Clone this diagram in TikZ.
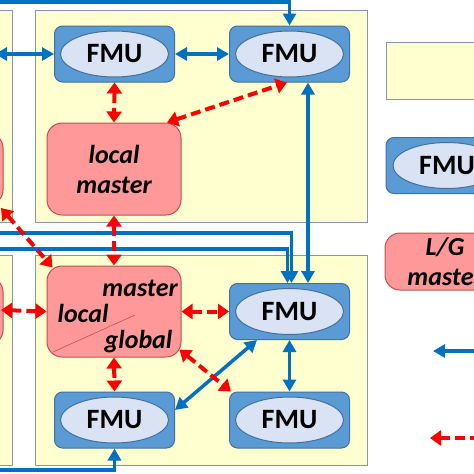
\documentclass[tikz,border=0pt]{standalone}
\usepackage{fontspec}
\setmainfont{Carlito}
\usetikzlibrary{arrows.meta,shapes.geometric,positioning}
\definecolor{panelfill}{RGB}{255,255,208}
\definecolor{panelline}{RGB}{132,151,176}
\definecolor{fmufill}{RGB}{91,155,213}
\definecolor{fmuline}{RGB}{65,113,156}
\definecolor{ellfill}{RGB}{218,227,243}
\definecolor{masterfill}{RGB}{255,153,153}
\definecolor{masterline}{RGB}{192,80,77}
\definecolor{arrblue}{RGB}{0,112,192}
\definecolor{arrred}{RGB}{255,0,0}

\begin{document}
\begin{tikzpicture}[x=1pt, y=-1pt, every node/.style={font=\fontsize{28}{30}\selectfont\bfseries}]
\tikzset{
    panel/.style={draw=panelline, fill=panelfill, line width=1pt},
    fmubox/.style={draw=fmuline, fill=fmufill, rounded corners=8pt, line width=1pt,
        minimum width=120pt, minimum height=56pt, inner sep=0pt},
    fmuell/.style={ellipse, draw=fmuline, fill=ellfill, line width=1pt,
        minimum width=108pt, minimum height=46pt, inner sep=0pt},
    masterbox/.style={draw=masterline, fill=masterfill, rounded corners=15pt, line width=1pt,
        inner sep=0pt, align=center},
    mtext/.style={font=\fontsize{26}{30}\selectfont\bfseries\itshape, inner sep=0pt},
    bluearr/.style={draw=arrblue, line width=3.5pt, >={Triangle[length=12pt,width=13pt]}},
    redarr/.style={draw=arrred, line width=4pt, dash pattern=on 10pt off 5pt,
        >={Triangle[length=11pt,width=15pt]}}
}
\useasboundingbox (0,0) rectangle (474,474);
\clip (0,0) rectangle (474,474);

% panels
\draw[panel] (-120,10) rectangle (12,222);
\draw[panel] (35,10) rectangle (367,222);
\draw[panel] (-120,255) rectangle (12,465);
\draw[panel] (35,255) rectangle (367,465);
\draw[panel] (386,42) rectangle (520,99);

% cut masters on the left
\node[masterbox, minimum width=120pt, minimum height=72pt] (leftA) at (-57,169) {};
\node[masterbox, minimum width=120pt, minimum height=68pt] (leftB) at (-57,311) {};

% FMUs
\node[fmubox] (fmuA) at (114.5,54) {};
\node[fmuell] (fmuAe) at (fmuA) {FMU};
\node[fmubox] (fmuB) at (289.5,54) {};
\node[fmuell] (fmuBe) at (fmuB) {FMU};
\node[fmubox] (fmuC) at (289.5,311.5) {};
\node[fmuell] (fmuCe) at (fmuC) {FMU};
\node[fmubox] (fmuD) at (289.5,420) {};
\node[fmuell] (fmuDe) at (fmuD) {FMU};
\node[fmubox] (fmuE) at (114.5,420) {};
\node[fmuell] (fmuEe) at (fmuE) {FMU};
\node[fmubox] (fmuL) at (446,165.5) {};
\node[fmuell] (fmuLe) at ([xshift=1pt]fmuL) {FMU};

% masters
\node[masterbox, minimum width=134pt, minimum height=92pt, mtext] (locM) at (114,169) {local\\master};
\node[masterbox, minimum width=134pt, minimum height=91pt] (gloM) at (114,311.5) {};
\node[mtext] (gloMa) at (140,288) {master};
\node[mtext] (gloMb) at (83,313) {local};
\node[mtext] (gloMc) at (138.5,342) {global};
\draw[masterline, line width=0.6pt] (53,352) -- (135,315);
\node[masterbox, minimum width=120pt, minimum height=57pt, mtext] (legM) at (445,261.5) {L/G\\master};

% blue connectors
\coordinate (inA) at (-5,2);
\coordinate (inB) at (-5,233);
\coordinate (inC) at (-5,249);
\coordinate (inD) at (-5,470);
\coordinate (inE) at (-5,54);
\draw[bluearr, ->] (inA) -| (fmuB.north);
\draw[bluearr, ->] (inB) -| ([xshift=2pt]fmuC.north);
\draw[bluearr, ->] (inC) -| ([xshift=-2pt]fmuC.north);
\draw[bluearr, ->] (inD) -| (fmuE.south);
\draw[bluearr, <->] (inE) -- (fmuA.west);
\draw[bluearr, <->] (fmuA.east) -- (fmuB.west);
\draw[bluearr, <->] ([xshift=18.5pt]fmuB.south) -- ([xshift=18.5pt]fmuC.north);
\draw[bluearr, <->] (fmuC.south) -- (fmuD.north);
\draw[bluearr, <->] ([xshift=28pt]fmuC.south west) -- ([yshift=10pt]fmuE.east);

% red connectors
\coordinate (inF) at (1,208);
\coordinate (inG) at (1,310);
\draw[redarr, <->] (fmuA.south) -- (locM.north);
\draw[redarr, <->] ([xshift=53pt]locM.north) -- ([xshift=-2.5pt]fmuB.south);
\draw[redarr, <->] (locM.south) -- (gloM.north);
\draw[redarr, <->] (inF) -- ([xshift=6pt,yshift=-2pt]gloM.north west);
\draw[redarr, <->] (inG) -- (gloM.west);
\draw[redarr, <->] (gloM.east) -- (fmuC.west);
\draw[redarr, <->] ([xshift=-2pt,yshift=8pt]gloM.south east) -- ([xshift=2pt]fmuD.north west);
\draw[redarr, <->] (gloM.south) -- (fmuE.north);

% legend arrows
\coordinate (legBa) at (480,351);
\coordinate (legBb) at (433,351);
\coordinate (legRa) at (480,438);
\coordinate (legRb) at (430,438);
\draw[bluearr, ->] (legBa) -- (legBb);
\draw[redarr, ->] (legRa) -- (legRb);

\end{tikzpicture}
\end{document}
